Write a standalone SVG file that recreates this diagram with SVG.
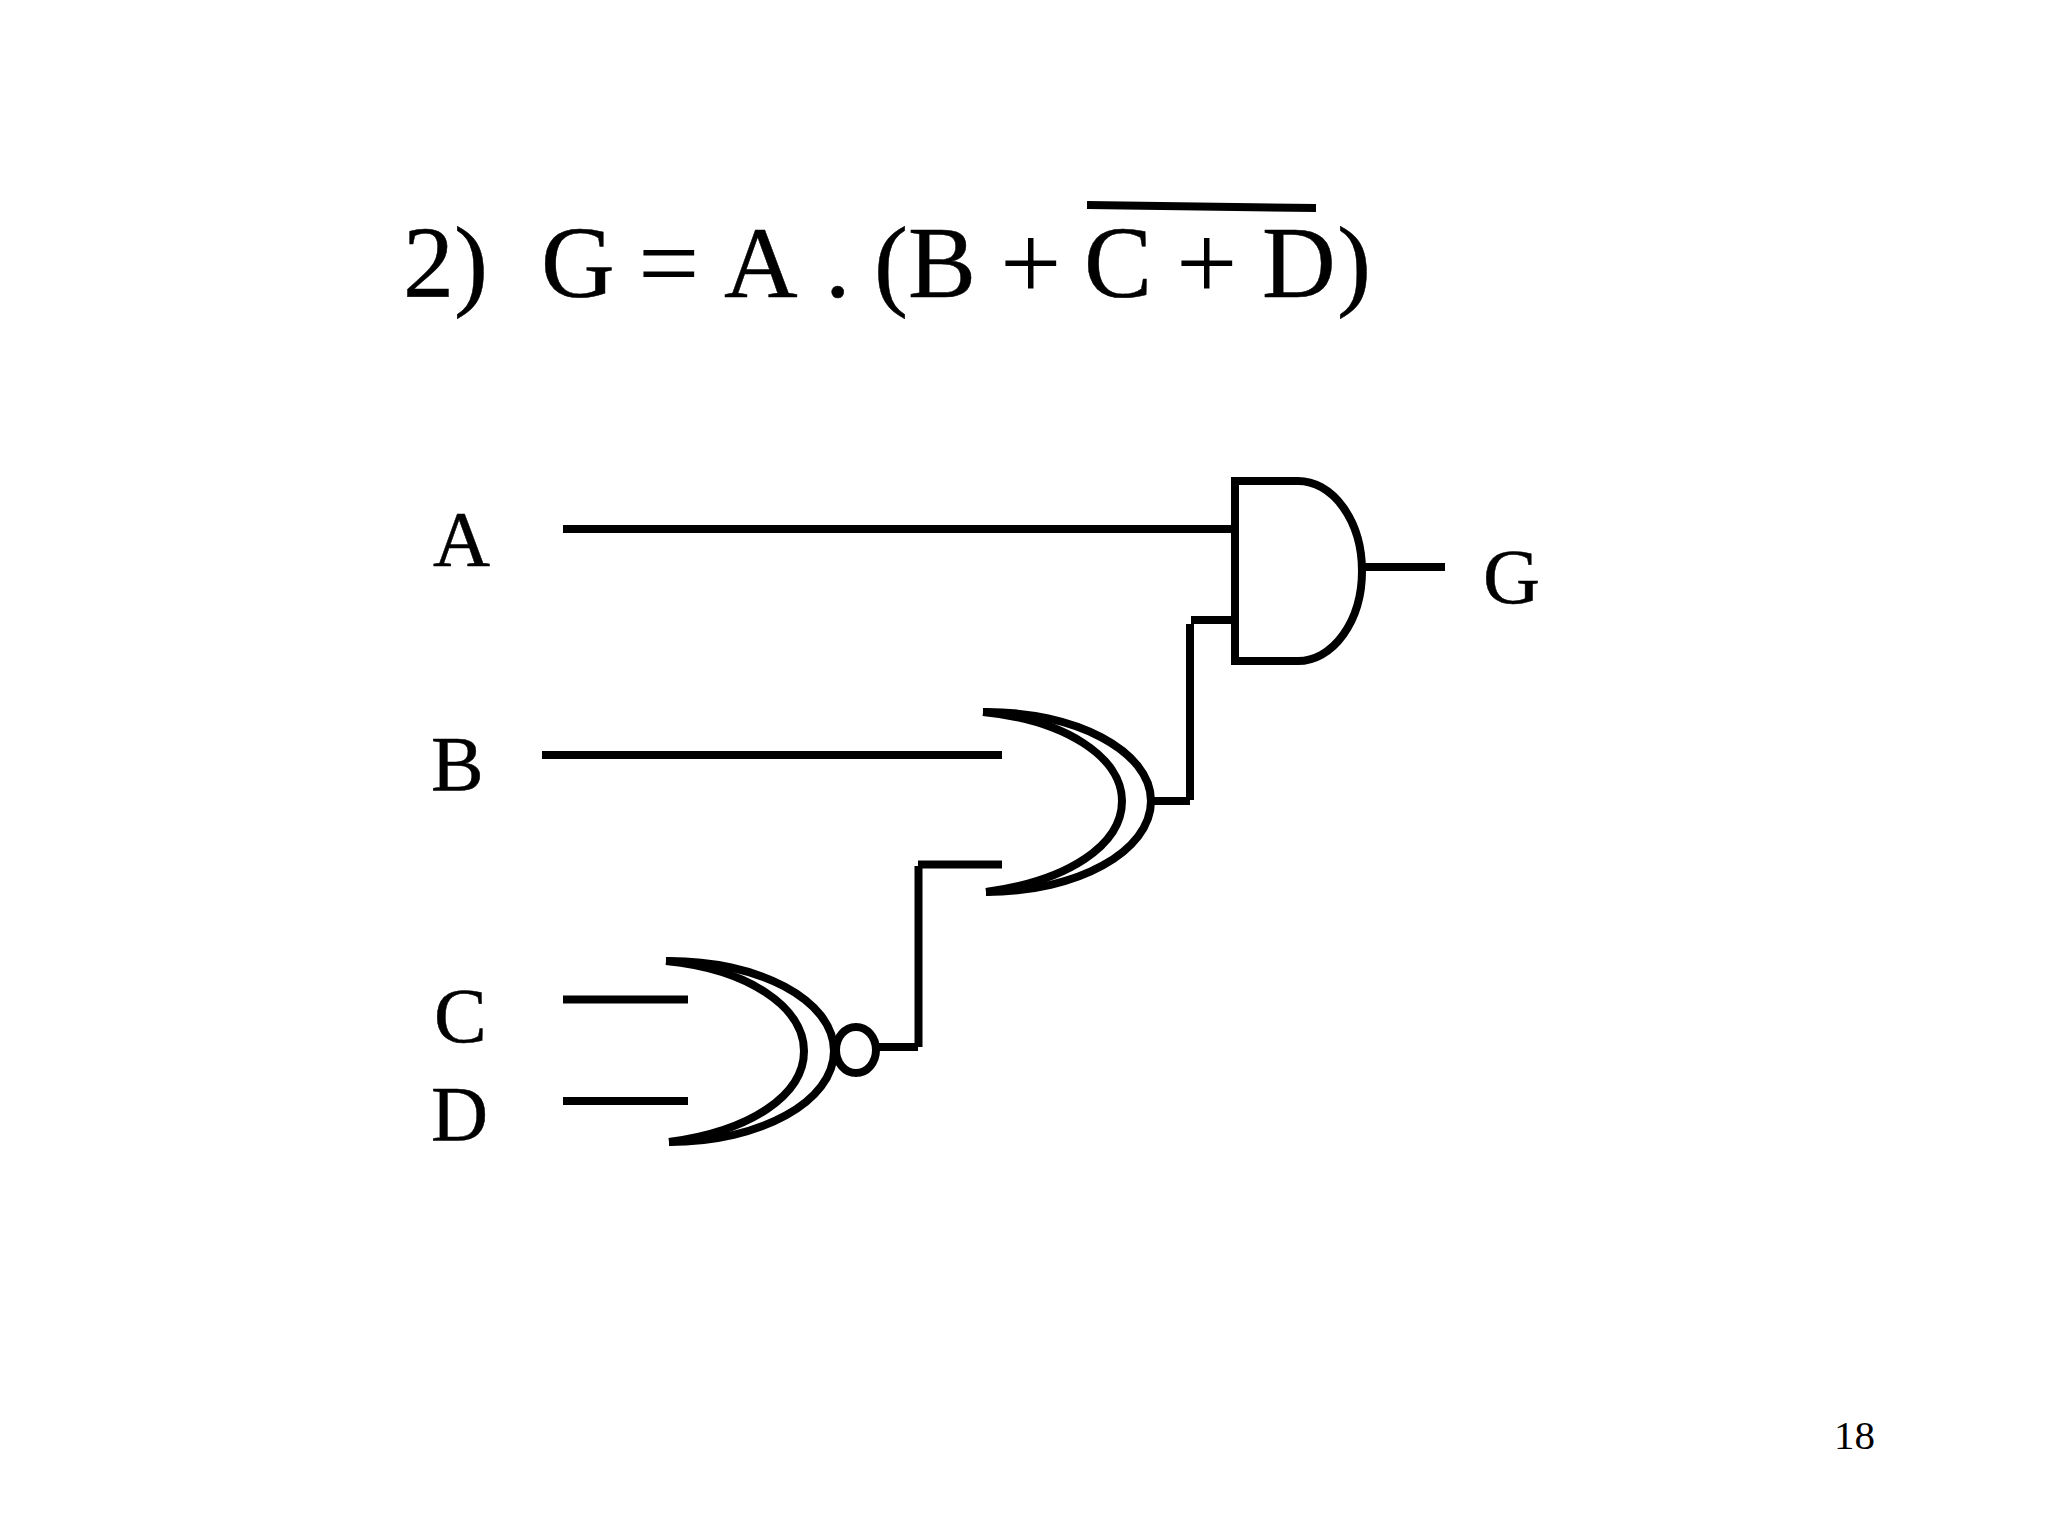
<svg xmlns="http://www.w3.org/2000/svg" width="2048" height="1536" viewBox="0 0 2048 1536">
<style>
text{font-family:"Liberation Serif","Times New Roman",serif;fill:#000}
.eq{font-size:102px;stroke:#000;stroke-width:.5}
.op{font-size:109px;stroke:none}
.lbl{font-size:79px;stroke:#000;stroke-width:.5}
.w{fill:none;stroke:#000;stroke-width:8}
.g{fill:none;stroke:#000;stroke-width:8}
</style>
<rect width="2048" height="1536" fill="#fff"/>
<g id="equation">
<text class="eq" y="297"><tspan x="403 454">2)</tspan><tspan x="541">G</tspan><tspan class="op" x="638" y="299">=</tspan><tspan x="724" y="297">A</tspan><tspan x="825">.</tspan><tspan x="874">(</tspan><tspan x="908">B</tspan><tspan class="op" x="1000" y="299">+</tspan><tspan x="1084" y="297">C</tspan><tspan class="op" x="1176" y="299">+</tspan><tspan x="1262" y="297">D</tspan><tspan x="1337">)</tspan></text>
<path class="w" d="M1087 205L1316 208"/>
</g>
<g id="connectors">
<path class="w" d="M563 529H1235"/>
<path class="w" d="M542 755H1002"/>
<path class="w" d="M563 999.500H688"/>
<path class="w" d="M563 1101H688"/>
<path class="w" d="M878 1047H918"/>
<path class="w" d="M918.500 1047V866"/>
<path class="w" d="M918 864.500H1002"/>
<path class="w" d="M1152 801H1190"/>
<path class="w" d="M1190 800V624"/>
<path class="w" d="M1191 620H1235"/>
<path class="w" d="M1362 567H1445"/>
</g>
<g id="and-gate"><path class="g" d="M1235 481H1298A64 90 0 0 1 1298 661H1235Z"/></g>
<g id="or-gate">
<path class="g" d="M983 712C1075 711 1151 751 1151 801C1151 851 1078 892 986 892"/>
<path class="g" d="M983 712C1065 720 1122 757 1122 801C1122 845 1068 881 986 892"/>
</g>
<g id="nor-gate">
<path class="g" d="M666 961C758 960 834 1000 834 1051C834 1101 761 1142 669 1142"/>
<path class="g" d="M666 961C748 969 804 1007 804 1051C804 1095 751 1131 669 1142"/>
<ellipse class="g" cx="856" cy="1050" rx="20" ry="23" style="fill:#fff"/>
</g>
<g id="labels">
<text class="lbl" id="label-a" x="433" y="565">A</text>
<text class="lbl" id="label-b" x="431" y="790">B</text>
<text class="lbl" id="label-c" x="434" y="1042">C</text>
<text class="lbl" id="label-d" x="431" y="1140">D</text>
<text class="lbl" id="label-g" x="1483" y="603">G</text>
</g>
<text id="page-number" x="1834" y="1449" font-size="41">18</text>
</svg>
